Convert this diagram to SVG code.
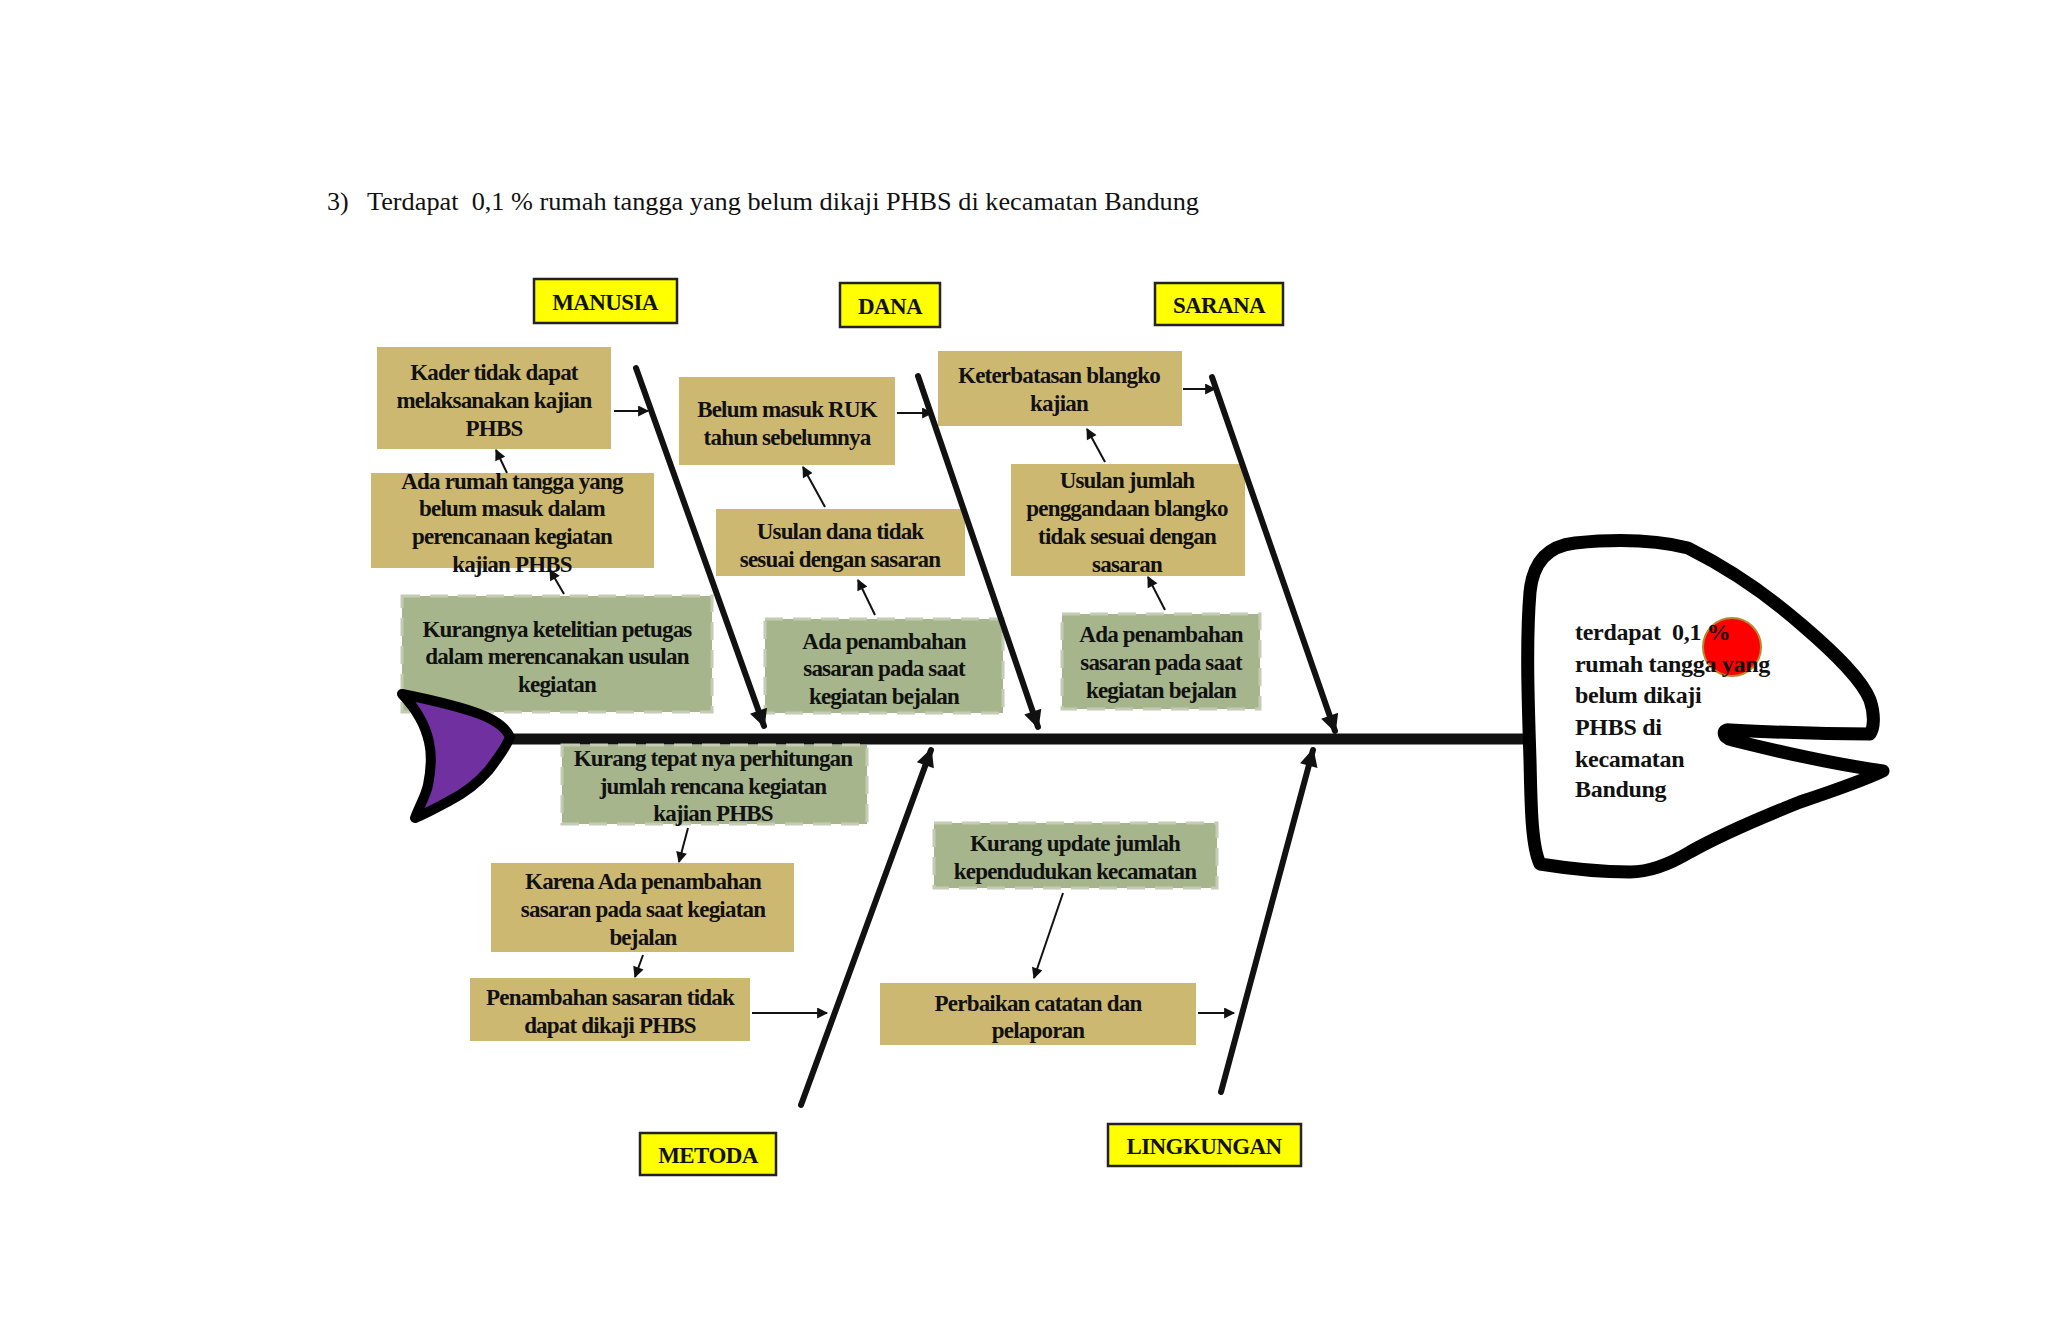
<svg xmlns="http://www.w3.org/2000/svg" width="2048" height="1340" viewBox="0 0 2048 1340">
<defs>
<style>
.t{font-family:"Liberation Serif","Times New Roman",serif;fill:#111;white-space:pre;}
.title{font-size:26px;}
.bx{font-size:23px;font-weight:bold;letter-spacing:-0.8px;text-anchor:middle;}
.lb{font-size:23px;font-weight:bold;letter-spacing:-0.6px;text-anchor:middle;}
.hd{font-size:24px;font-weight:bold;letter-spacing:-0.3px;}
.tan{fill:#CDB872;}
.grn{fill:#A6B58C;stroke:#C4CCB4;stroke-width:3;stroke-dasharray:18 10;}
.ylw{fill:#FFFF00;stroke:#222;stroke-width:2.5;}
.bone{stroke:#111;stroke-width:6;fill:none;stroke-linecap:round;}
.sm{stroke:#111;stroke-width:2;fill:none;}
</style>
<marker id="big" viewBox="0 0 10 10" refX="9" refY="5" markerWidth="20" markerHeight="18" markerUnits="userSpaceOnUse" orient="auto">
<path d="M0,0 L10,5 L0,10 Z" fill="#111"/>
</marker>
<marker id="ar" viewBox="0 0 10 10" refX="9" refY="5" markerWidth="12" markerHeight="11" markerUnits="userSpaceOnUse" orient="auto">
<path d="M0,0 L10,5 L0,10 Z" fill="#111"/>
</marker>
</defs>
<rect width="2048" height="1340" fill="#fff"/>

<text class="t title" x="327" y="210">3)</text>
<text class="t title" x="367" y="210" xml:space="preserve" textLength="832" lengthAdjust="spacingAndGlyphs">Terdapat  0,1 % rumah tangga yang belum dikaji PHBS di kecamatan Bandung</text>

<g id="spine">
<line x1="508" y1="739" x2="1530" y2="739" stroke="#111" stroke-width="11"/>
</g>
<g id="head">
<path d="M1530,760 C1528,700 1526,640 1530,592 C1533,562 1548,546 1575,543 C1615,539 1652,539 1688,548 C1722,565 1762,590 1802,625 C1837,655 1862,680 1870,700 C1875,715 1874,728 1870,734 C1830,734 1770,732 1730,730 C1722,728 1722,738 1732,740 C1780,752 1840,765 1883,771 C1860,782 1830,792 1800,802 C1760,818 1720,835 1690,852 C1670,864 1650,872 1630,872 C1600,872 1565,868 1540,864 C1531,845 1531,800 1530,760 Z" fill="#fff" stroke="#000" stroke-width="13" stroke-linejoin="round"/>
<circle cx="1732" cy="647" r="29" fill="#FF0000" stroke="#B5892E" stroke-width="2"/>
<text class="t hd" x="1575" y="640" xml:space="preserve">terdapat  0,1 %</text>
<text class="t hd" x="1575" y="672">rumah tangga yang</text>
<text class="t hd" x="1575" y="703">belum dikaji</text>
<text class="t hd" x="1575" y="735">PHBS di</text>
<text class="t hd" x="1575" y="767">kecamatan</text>
<text class="t hd" x="1575" y="797">Bandung</text>
</g>

<!-- category labels -->
<g id="lbl-manusia"><rect class="ylw" x="534" y="279" width="143" height="44"/><text class="t lb" x="605" y="310">MANUSIA</text></g>
<g id="lbl-dana"><rect class="ylw" x="840" y="283" width="100" height="44"/><text class="t lb" x="890" y="314">DANA</text></g>
<g id="lbl-sarana"><rect class="ylw" x="1155" y="283" width="128" height="42"/><text class="t lb" x="1219" y="313">SARANA</text></g>
<g id="lbl-metoda"><rect class="ylw" x="640" y="1133" width="136" height="42"/><text class="t lb" x="708" y="1163">METODA</text></g>
<g id="lbl-lingkungan"><rect class="ylw" x="1108" y="1124" width="193" height="42"/><text class="t lb" x="1204" y="1154">LINGKUNGAN</text></g>

<!-- cause boxes -->
<g id="n-kader"><rect class="tan" x="377" y="347" width="234" height="102"/>
<text class="t bx" x="494" y="380">Kader tidak dapat</text><text class="t bx" x="494" y="408">melaksanakan kajian</text><text class="t bx" x="494" y="436">PHBS</text></g>
<g id="n-adarumah"><rect class="tan" x="371" y="473" width="283" height="95"/>
<text class="t bx" x="512" y="489">Ada rumah tangga yang</text><text class="t bx" x="512" y="516">belum masuk dalam</text><text class="t bx" x="512" y="544">perencanaan kegiatan</text><text class="t bx" x="512" y="572">kajian PHBS</text></g>
<g id="n-kurangnya"><rect class="grn" x="402" y="596" width="310" height="116"/>
<text class="t bx" x="557" y="637">Kurangnya ketelitian petugas</text><text class="t bx" x="557" y="664">dalam merencanakan usulan</text><text class="t bx" x="557" y="692">kegiatan</text></g>

<g id="n-belum"><rect class="tan" x="679" y="377" width="216" height="88"/>
<text class="t bx" x="787" y="417">Belum masuk RUK</text><text class="t bx" x="787" y="445">tahun sebelumnya</text></g>
<g id="n-usulandana"><rect class="tan" x="716" y="509" width="249" height="67"/>
<text class="t bx" x="840" y="539">Usulan dana tidak</text><text class="t bx" x="840" y="567">sesuai dengan sasaran</text></g>
<g id="n-adapen1"><rect class="grn" x="765" y="619" width="238" height="94"/>
<text class="t bx" x="884" y="649">Ada penambahan</text><text class="t bx" x="884" y="676">sasaran pada saat</text><text class="t bx" x="884" y="704">kegiatan bejalan</text></g>

<g id="n-keterbatasan"><rect class="tan" x="938" y="351" width="244" height="75"/>
<text class="t bx" x="1059" y="383">Keterbatasan blangko</text><text class="t bx" x="1059" y="411">kajian</text></g>
<g id="n-usulanjumlah"><rect class="tan" x="1011" y="464" width="234" height="112"/>
<text class="t bx" x="1127" y="488">Usulan jumlah</text><text class="t bx" x="1127" y="516">penggandaan blangko</text><text class="t bx" x="1127" y="544">tidak sesuai dengan</text><text class="t bx" x="1127" y="572">sasaran</text></g>
<g id="n-adapen2"><rect class="grn" x="1062" y="614" width="198" height="95"/>
<text class="t bx" x="1161" y="642">Ada penambahan</text><text class="t bx" x="1161" y="670">sasaran pada saat</text><text class="t bx" x="1161" y="698">kegiatan bejalan</text></g>

<g id="n-kurangtepat"><rect class="grn" x="562" y="745" width="305" height="79"/>
<text class="t bx" x="713" y="766">Kurang tepat nya perhitungan</text><text class="t bx" x="713" y="794">jumlah rencana kegiatan</text><text class="t bx" x="713" y="821">kajian PHBS</text></g>
<g id="n-karena"><rect class="tan" x="491" y="863" width="303" height="89"/>
<text class="t bx" x="643" y="889">Karena Ada penambahan</text><text class="t bx" x="643" y="917">sasaran pada saat kegiatan</text><text class="t bx" x="643" y="945">bejalan</text></g>
<g id="n-penambahan"><rect class="tan" x="470" y="978" width="280" height="63"/>
<text class="t bx" x="610" y="1005">Penambahan sasaran tidak</text><text class="t bx" x="610" y="1033">dapat dikaji PHBS</text></g>

<g id="n-kurangupdate"><rect class="grn" x="934" y="823" width="283" height="65"/>
<text class="t bx" x="1075" y="851">Kurang update jumlah</text><text class="t bx" x="1075" y="879">kependudukan kecamatan</text></g>
<g id="n-perbaikan"><rect class="tan" x="880" y="983" width="316" height="62"/>
<text class="t bx" x="1038" y="1011">Perbaikan catatan dan</text><text class="t bx" x="1038" y="1038">pelaporan</text></g>

<!-- fish tail drawn over boxes -->
<g id="tail">
<path d="M402,694 C432,700 456,706 474,712 C492,718 505,726 510,737 C505,750 496,760 489,770 C476,785 461,795 449,801 C436,808 425,814 415,818 C420,805 426,795 428,785 C431,770 432,755 429,742 C426,728 419,712 402,694 Z" fill="#7030A0" stroke="#000" stroke-width="10" stroke-linejoin="round"/>
</g>

<!-- connectors -->
<g id="connectors">
<line class="bone" x1="636" y1="368" x2="764" y2="726" marker-end="url(#big)"/>
<line class="bone" x1="918" y1="376" x2="1038" y2="727" marker-end="url(#big)"/>
<line class="bone" x1="1212" y1="377" x2="1335" y2="731" marker-end="url(#big)"/>
<line class="bone" x1="801" y1="1105" x2="931" y2="750" marker-end="url(#big)"/>
<line class="bone" x1="1221" y1="1092" x2="1313" y2="750" marker-end="url(#big)"/>

<line class="sm" x1="614" y1="411" x2="648" y2="411" marker-end="url(#ar)"/>
<line class="sm" x1="507" y1="473" x2="496" y2="450" marker-end="url(#ar)"/>
<line class="sm" x1="564" y1="594" x2="550" y2="570" marker-end="url(#ar)"/>
<line class="sm" x1="897" y1="413" x2="932" y2="413" marker-end="url(#ar)"/>
<line class="sm" x1="825" y1="507" x2="803" y2="467" marker-end="url(#ar)"/>
<line class="sm" x1="875" y1="615" x2="858" y2="580" marker-end="url(#ar)"/>
<line class="sm" x1="1183" y1="389" x2="1215" y2="389" marker-end="url(#ar)"/>
<line class="sm" x1="1105" y1="462" x2="1087" y2="429" marker-end="url(#ar)"/>
<line class="sm" x1="1165" y1="610" x2="1148" y2="577" marker-end="url(#ar)"/>
<line class="sm" x1="688" y1="828" x2="679" y2="862" marker-end="url(#ar)"/>
<line class="sm" x1="643" y1="955" x2="635" y2="977" marker-end="url(#ar)"/>
<line class="sm" x1="752" y1="1013" x2="827" y2="1013" marker-end="url(#ar)"/>
<line class="sm" x1="1063" y1="893" x2="1034" y2="978" marker-end="url(#ar)"/>
<line class="sm" x1="1198" y1="1013" x2="1234" y2="1013" marker-end="url(#ar)"/>
</g>
</svg>
